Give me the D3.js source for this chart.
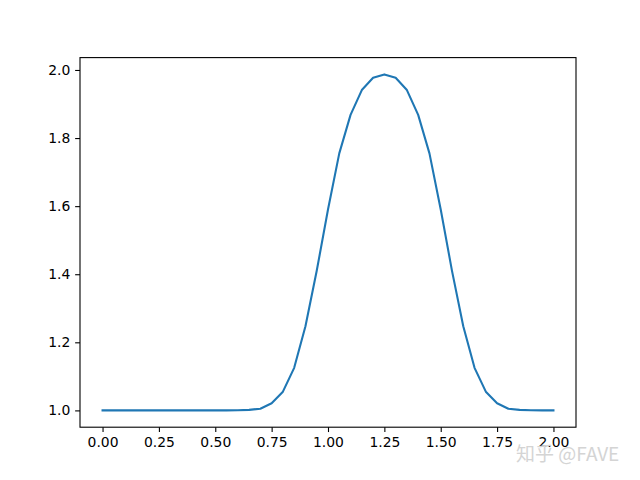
<!DOCTYPE html>
<html>
<head>
<meta charset="utf-8">
<script src="https://cdn.jsdelivr.net/npm/d3@7"></script>
<style>
	body { margin: 0; background: #fff; }
	text { font-family: "DejaVu Sans", sans-serif; }
</style>
</head>
<body>
<div id="chart"></div>
<script>

// x values of the curve
var xvalues = [0.00, 0.05, 0.10, 0.15, 0.20, 0.25, 0.30, 0.35, 0.40, 0.45,
	0.50, 0.55, 0.60, 0.65, 0.70, 0.75, 0.80, 0.85, 0.90, 0.95,
	1.00, 1.05, 1.10, 1.15, 1.20, 1.25, 1.30, 1.35, 1.40, 1.45,
	1.50, 1.55, 1.60, 1.65, 1.70, 1.75, 1.80, 1.85, 1.90, 1.95, 2.00];

// y values
var yvalues = [1.000, 1.000, 1.000, 1.000, 1.000, 1.000, 1.000, 1.000, 1.000, 1.000,
	1.000, 1.000, 1.0003, 1.0015, 1.005, 1.021, 1.055, 1.125, 1.247, 1.410,
	1.590, 1.755, 1.868, 1.941, 1.977, 1.987, 1.977, 1.941, 1.868, 1.755,
	1.590, 1.410, 1.247, 1.125, 1.055, 1.021, 1.005, 1.0015, 1.0003, 1.000, 1.000];

// tick labels
var xticks = [0, 0.25, 0.5, 0.75, 1.0, 1.25, 1.5, 1.75, 2.0];
var yticks = [1.0, 1.2, 1.4, 1.6, 1.8, 2.0];

// figure and axes box (matplotlib default)
var width = 640,
	height = 480,
	margin = {top: 57.6, bottom: 52.8, left: 80, right: 64};

var svg = d3.select("#chart")
	.append("svg")
	.attr("width", width)
	.attr("height", height);

// 5% padding like matplotlib autoscale
var xmin = d3.min(xvalues), xmax = d3.max(xvalues),
	ymin = d3.min(yvalues), ymax = d3.max(yvalues);
var xpad = (xmax - xmin) * 0.05, ypad = (ymax - ymin) * 0.05;

var x = d3.scaleLinear()
	.domain([xmin - xpad, xmax + xpad])
	.range([margin.left, width - margin.right]);

var y = d3.scaleLinear()
	.domain([ymin - ypad, ymax + ypad])
	.range([height - margin.bottom, margin.top]);

var ticklen = 4.86;

// x axis
var xaxis = svg.append("g")
	.attr("transform", "translate(0," + (height - margin.bottom) + ")")
	.call(d3.axisBottom(x)
		.tickValues(xticks)
		.tickFormat(d3.format(".2f"))
		.tickSize(ticklen)
		.tickPadding(4.86));

// y axis
var yaxis = svg.append("g")
	.attr("transform", "translate(" + margin.left + ",0)")
	.call(d3.axisLeft(y)
		.tickValues(yticks)
		.tickFormat(d3.format(".1f"))
		.tickSize(ticklen)
		.tickPadding(4.86));

[xaxis, yaxis].forEach(function(g){

	g.select(".domain").remove();
	g.selectAll("line").attr("stroke", "#000").attr("stroke-width", 1.1);
	g.selectAll("text")
		.attr("fill", "#000")
		.style("font-size", "13.9px")
		.style("font-family", "DejaVu Sans");
});

// frame around axes
svg.append("rect")
	.attr("x", margin.left)
	.attr("y", margin.top)
	.attr("width", width - margin.left - margin.right)
	.attr("height", height - margin.top - margin.bottom)
	.attr("fill", "none")
	.attr("stroke", "#000")
	.attr("stroke-width", 1.1);

// the curve
var line = d3.line()
	.x(function(d, i){ return x(xvalues[i]); })
	.y(function(d){ return y(d); });

svg.append("path")
	.datum(yvalues)
	.attr("d", line)
	.attr("fill", "none")
	.attr("stroke", "#1f77b4")
	.attr("stroke-width", 2.08)
	.attr("stroke-linejoin", "round")
	.attr("stroke-linecap", "square");

// watermark
svg.append("text")
	.attr("x", 516)
	.attr("y", 461)
	.attr("fill", "#d4d4d4")
	.style("font-size", "19px")
	.style("font-family", "'Noto Sans CJK SC', 'DejaVu Sans', sans-serif")
	.text("知乎 @FAVE");

</script>
</body>
</html>
